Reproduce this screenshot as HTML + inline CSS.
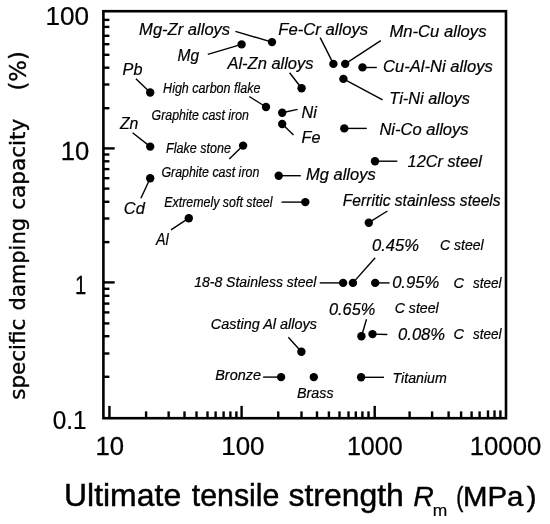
<!DOCTYPE html>
<html><head><meta charset="utf-8"><title>Damping capacity vs tensile strength</title>
<style>
html,body{margin:0;padding:0;background:#fff;}
svg{display:block;font-family:"Liberation Sans",Arial,Helvetica,sans-serif;fill:#000;}
</style></head>
<body>
<svg width="550" height="524" viewBox="0 0 550 524">
<rect width="550" height="524" fill="#fff"/>
<g>
<rect x="103.4" y="11.2" width="402.6" height="407.0" fill="none" stroke="#000" stroke-width="2.6"/>
<line x1="103.4" y1="148.40" x2="114.7" y2="148.40" stroke="#000" stroke-width="2.4"/>
<line x1="103.4" y1="282.40" x2="114.7" y2="282.40" stroke="#000" stroke-width="2.4"/>
<line x1="103.4" y1="19.90" x2="109.4" y2="19.90" stroke="#000" stroke-width="2.4"/>
<line x1="103.4" y1="26.90" x2="109.4" y2="26.90" stroke="#000" stroke-width="2.4"/>
<line x1="103.4" y1="35.80" x2="109.4" y2="35.80" stroke="#000" stroke-width="2.4"/>
<line x1="103.4" y1="44.20" x2="109.4" y2="44.20" stroke="#000" stroke-width="2.4"/>
<line x1="103.4" y1="54.80" x2="109.4" y2="54.80" stroke="#000" stroke-width="2.4"/>
<line x1="103.4" y1="67.70" x2="109.4" y2="67.70" stroke="#000" stroke-width="2.4"/>
<line x1="103.4" y1="84.50" x2="109.4" y2="84.50" stroke="#000" stroke-width="2.4"/>
<line x1="103.4" y1="108.20" x2="109.4" y2="108.20" stroke="#000" stroke-width="2.4"/>
<line x1="103.4" y1="154.50" x2="109.4" y2="154.50" stroke="#000" stroke-width="2.4"/>
<line x1="103.4" y1="161.30" x2="109.4" y2="161.30" stroke="#000" stroke-width="2.4"/>
<line x1="103.4" y1="169.10" x2="109.4" y2="169.10" stroke="#000" stroke-width="2.4"/>
<line x1="103.4" y1="178.20" x2="109.4" y2="178.20" stroke="#000" stroke-width="2.4"/>
<line x1="103.4" y1="188.60" x2="109.4" y2="188.60" stroke="#000" stroke-width="2.4"/>
<line x1="103.4" y1="201.80" x2="109.4" y2="201.80" stroke="#000" stroke-width="2.4"/>
<line x1="103.4" y1="218.50" x2="109.4" y2="218.50" stroke="#000" stroke-width="2.4"/>
<line x1="103.4" y1="242.10" x2="109.4" y2="242.10" stroke="#000" stroke-width="2.4"/>
<line x1="103.4" y1="288.80" x2="109.4" y2="288.80" stroke="#000" stroke-width="2.4"/>
<line x1="103.4" y1="295.80" x2="109.4" y2="295.80" stroke="#000" stroke-width="2.4"/>
<line x1="103.4" y1="303.60" x2="109.4" y2="303.60" stroke="#000" stroke-width="2.4"/>
<line x1="103.4" y1="312.40" x2="109.4" y2="312.40" stroke="#000" stroke-width="2.4"/>
<line x1="103.4" y1="323.40" x2="109.4" y2="323.40" stroke="#000" stroke-width="2.4"/>
<line x1="103.4" y1="336.20" x2="109.4" y2="336.20" stroke="#000" stroke-width="2.4"/>
<line x1="103.4" y1="353.50" x2="109.4" y2="353.50" stroke="#000" stroke-width="2.4"/>
<line x1="103.4" y1="376.80" x2="109.4" y2="376.80" stroke="#000" stroke-width="2.4"/>
<line x1="109.45" y1="418.2" x2="109.45" y2="405.9" stroke="#000" stroke-width="2.4"/>
<line x1="241.6" y1="418.2" x2="241.6" y2="405.9" stroke="#000" stroke-width="2.4"/>
<line x1="374.7" y1="418.2" x2="374.7" y2="405.9" stroke="#000" stroke-width="2.4"/>
<line x1="146.1" y1="418.2" x2="146.1" y2="411.4" stroke="#000" stroke-width="2.4"/>
<line x1="168.65" y1="418.2" x2="168.65" y2="411.4" stroke="#000" stroke-width="2.4"/>
<line x1="184.5" y1="418.2" x2="184.5" y2="411.4" stroke="#000" stroke-width="2.4"/>
<line x1="196.5" y1="418.2" x2="196.5" y2="411.4" stroke="#000" stroke-width="2.4"/>
<line x1="207.5" y1="418.2" x2="207.5" y2="411.4" stroke="#000" stroke-width="2.4"/>
<line x1="215.6" y1="418.2" x2="215.6" y2="411.4" stroke="#000" stroke-width="2.4"/>
<line x1="223.6" y1="418.2" x2="223.6" y2="411.4" stroke="#000" stroke-width="2.4"/>
<line x1="230.4" y1="418.2" x2="230.4" y2="411.4" stroke="#000" stroke-width="2.4"/>
<line x1="236.4" y1="418.2" x2="236.4" y2="411.4" stroke="#000" stroke-width="2.4"/>
<line x1="278.25" y1="418.2" x2="278.25" y2="411.4" stroke="#000" stroke-width="2.4"/>
<line x1="301.5" y1="418.2" x2="301.5" y2="411.4" stroke="#000" stroke-width="2.4"/>
<line x1="317.0" y1="418.2" x2="317.0" y2="411.4" stroke="#000" stroke-width="2.4"/>
<line x1="328.9" y1="418.2" x2="328.9" y2="411.4" stroke="#000" stroke-width="2.4"/>
<line x1="339.5" y1="418.2" x2="339.5" y2="411.4" stroke="#000" stroke-width="2.4"/>
<line x1="348.5" y1="418.2" x2="348.5" y2="411.4" stroke="#000" stroke-width="2.4"/>
<line x1="355.8" y1="418.2" x2="355.8" y2="411.4" stroke="#000" stroke-width="2.4"/>
<line x1="362.4" y1="418.2" x2="362.4" y2="411.4" stroke="#000" stroke-width="2.4"/>
<line x1="368.5" y1="418.2" x2="368.5" y2="411.4" stroke="#000" stroke-width="2.4"/>
<line x1="409.6" y1="418.2" x2="409.6" y2="411.4" stroke="#000" stroke-width="2.4"/>
<line x1="432.1" y1="418.2" x2="432.1" y2="411.4" stroke="#000" stroke-width="2.4"/>
<line x1="448.6" y1="418.2" x2="448.6" y2="411.4" stroke="#000" stroke-width="2.4"/>
<line x1="461.1" y1="418.2" x2="461.1" y2="411.4" stroke="#000" stroke-width="2.4"/>
<line x1="471.6" y1="418.2" x2="471.6" y2="411.4" stroke="#000" stroke-width="2.4"/>
<line x1="479.6" y1="418.2" x2="479.6" y2="411.4" stroke="#000" stroke-width="2.4"/>
<line x1="488.0" y1="418.2" x2="488.0" y2="410.4" stroke="#000" stroke-width="2.4"/>
<line x1="494.5" y1="418.2" x2="494.5" y2="410.4" stroke="#000" stroke-width="2.4"/>
<line x1="500.4" y1="418.2" x2="500.4" y2="410.4" stroke="#000" stroke-width="2.4"/>
<circle cx="241.6" cy="44.4" r="4.2"/>
<circle cx="272.0" cy="42.1" r="4.2"/>
<circle cx="333.4" cy="63.9" r="4.2"/>
<circle cx="345.2" cy="63.9" r="4.2"/>
<circle cx="362.5" cy="67.4" r="4.2"/>
<circle cx="343.4" cy="78.9" r="4.2"/>
<circle cx="301.6" cy="88.3" r="4.2"/>
<circle cx="266.0" cy="107.0" r="4.2"/>
<circle cx="282.2" cy="112.8" r="4.2"/>
<circle cx="282.2" cy="124.0" r="4.2"/>
<circle cx="344.3" cy="128.4" r="4.2"/>
<circle cx="150.2" cy="92.5" r="4.2"/>
<circle cx="150.2" cy="146.6" r="4.2"/>
<circle cx="243.1" cy="145.6" r="4.2"/>
<circle cx="150.2" cy="178.2" r="4.2"/>
<circle cx="278.7" cy="175.7" r="4.2"/>
<circle cx="375.0" cy="161.2" r="4.2"/>
<circle cx="305.3" cy="202.1" r="4.2"/>
<circle cx="188.8" cy="218.2" r="4.2"/>
<circle cx="368.8" cy="222.7" r="4.2"/>
<circle cx="343.1" cy="282.9" r="4.2"/>
<circle cx="352.9" cy="282.9" r="4.2"/>
<circle cx="375.2" cy="282.9" r="4.2"/>
<circle cx="361.4" cy="336.2" r="4.2"/>
<circle cx="372.5" cy="334.1" r="4.2"/>
<circle cx="301.4" cy="351.7" r="4.2"/>
<circle cx="281.1" cy="377.1" r="4.2"/>
<circle cx="313.8" cy="377.1" r="4.2"/>
<circle cx="361.1" cy="377.3" r="4.2"/>
<line x1="207.8" y1="54.4" x2="241.6" y2="44.4" stroke="#000" stroke-width="1.4"/>
<line x1="235.4" y1="31.4" x2="272.0" y2="42.1" stroke="#000" stroke-width="1.4"/>
<line x1="320.2" y1="37.6" x2="333.4" y2="63.9" stroke="#000" stroke-width="1.4"/>
<line x1="380.8" y1="40.7" x2="345.2" y2="63.9" stroke="#000" stroke-width="1.4"/>
<line x1="362.5" y1="67.5" x2="376.8" y2="67.5" stroke="#000" stroke-width="1.4"/>
<line x1="343.4" y1="78.9" x2="382.6" y2="99.9" stroke="#000" stroke-width="1.4"/>
<line x1="289.6" y1="72.8" x2="301.6" y2="88.3" stroke="#000" stroke-width="1.4"/>
<line x1="249.3" y1="96.5" x2="266.0" y2="107.0" stroke="#000" stroke-width="1.4"/>
<line x1="282.2" y1="112.8" x2="297.6" y2="109.4" stroke="#000" stroke-width="1.4"/>
<line x1="282.2" y1="124.0" x2="293.5" y2="135.1" stroke="#000" stroke-width="1.4"/>
<line x1="344.3" y1="128.4" x2="366.8" y2="128.4" stroke="#000" stroke-width="1.4"/>
<line x1="135.9" y1="78.8" x2="150.2" y2="92.5" stroke="#000" stroke-width="1.4"/>
<line x1="132.6" y1="132.8" x2="150.2" y2="146.6" stroke="#000" stroke-width="1.4"/>
<line x1="229.3" y1="158.9" x2="243.1" y2="145.6" stroke="#000" stroke-width="1.4"/>
<line x1="140.9" y1="198.2" x2="150.2" y2="178.2" stroke="#000" stroke-width="1.4"/>
<line x1="278.7" y1="175.7" x2="300.8" y2="175.7" stroke="#000" stroke-width="1.4"/>
<line x1="375.0" y1="161.2" x2="397.3" y2="161.2" stroke="#000" stroke-width="1.4"/>
<line x1="281.5" y1="202.1" x2="305.3" y2="202.1" stroke="#000" stroke-width="1.4"/>
<line x1="171.0" y1="229.8" x2="188.8" y2="218.2" stroke="#000" stroke-width="1.4"/>
<line x1="387.4" y1="211.0" x2="368.8" y2="222.7" stroke="#000" stroke-width="1.4"/>
<line x1="319.7" y1="282.9" x2="343.1" y2="282.9" stroke="#000" stroke-width="1.4"/>
<line x1="375.2" y1="257.8" x2="352.9" y2="282.9" stroke="#000" stroke-width="1.4"/>
<line x1="375.2" y1="282.9" x2="389.6" y2="282.9" stroke="#000" stroke-width="1.4"/>
<line x1="366.5" y1="319.2" x2="361.6" y2="336.0" stroke="#000" stroke-width="1.4"/>
<line x1="372.5" y1="334.1" x2="387.3" y2="334.5" stroke="#000" stroke-width="1.4"/>
<line x1="288.3" y1="337.3" x2="301.4" y2="351.7" stroke="#000" stroke-width="1.4"/>
<line x1="263.1" y1="377.1" x2="281.1" y2="377.1" stroke="#000" stroke-width="1.4"/>
<line x1="361.1" y1="377.3" x2="384.0" y2="377.3" stroke="#000" stroke-width="1.4"/>
</g>
<g>
<text transform="matrix(1.0042 0 0 1 139.10 34.50)" font-size="16.5" font-style="italic" stroke="#000" stroke-width="0.2">Mg-Zr alloys</text>
<text transform="matrix(0.9428 0 0 1 177.53 61.40)" font-size="16.5" font-style="italic" stroke="#000" stroke-width="0.2">Mg</text>
<text transform="matrix(0.9997 0 0 1 227.42 68.70)" font-size="16.5" font-style="italic" stroke="#000" stroke-width="0.2">Al-Zn alloys</text>
<text transform="matrix(1.0112 0 0 1 278.30 35.40)" font-size="16.5" font-style="italic" stroke="#000" stroke-width="0.2">Fe-Cr alloys</text>
<text transform="matrix(1.0087 0 0 1 389.40 37.40)" font-size="16.5" font-style="italic" stroke="#000" stroke-width="0.2">Mn-Cu alloys</text>
<text transform="matrix(1.0064 0 0 1 382.97 72.00)" font-size="16.5" font-style="italic" stroke="#000" stroke-width="0.2">Cu-Al-Ni alloys</text>
<text transform="matrix(0.9913 0 0 1 389.33 103.90)" font-size="16.5" font-style="italic" stroke="#000" stroke-width="0.2">Ti-Ni alloys</text>
<text transform="matrix(0.9840 0 0 1 301.61 117.70)" font-size="16.5" font-style="italic" stroke="#000" stroke-width="0.2">Ni</text>
<text transform="matrix(0.9807 0 0 1 301.51 143.10)" font-size="16.5" font-style="italic" stroke="#000" stroke-width="0.2">Fe</text>
<text transform="matrix(1.0033 0 0 1 379.40 134.90)" font-size="16.5" font-style="italic" stroke="#000" stroke-width="0.2">Ni-Co alloys</text>
<text transform="matrix(0.9883 0 0 1 407.61 166.90)" font-size="16.5" font-style="italic" stroke="#000" stroke-width="0.2">12Cr steel</text>
<text transform="matrix(0.9985 0 0 1 306.11 180.10)" font-size="16.5" font-style="italic" stroke="#000" stroke-width="0.2">Mg alloys</text>
<text transform="matrix(1.0004 0 0 1 342.83 205.60)" font-size="15.6" font-style="italic" stroke="#000" stroke-width="0.2">Ferritic stainless steels</text>
<text transform="matrix(0.9842 0 0 1 122.61 75.10)" font-size="16.5" font-style="italic" stroke="#000" stroke-width="0.2">Pb</text>
<text transform="matrix(0.9569 0 0 1 119.92 129.00)" font-size="16.5" font-style="italic" stroke="#000" stroke-width="0.2">Zn</text>
<text transform="matrix(0.9988 0 0 1 123.78 213.90)" font-size="16.5" font-style="italic" stroke="#000" stroke-width="0.2">Cd</text>
<text transform="matrix(0.8712 0 0 1 155.92 245.30)" font-size="16.5" font-style="italic" stroke="#000" stroke-width="0.2">Al</text>
<text transform="matrix(1.0057 0 0 1 371.94 250.90)" font-size="16.5" font-style="italic" stroke="#000" stroke-width="0.2">0.45%</text>
<text transform="matrix(1.0057 0 0 1 392.14 288.10)" font-size="16.5" font-style="italic" stroke="#000" stroke-width="0.2">0.95%</text>
<text transform="matrix(0.9925 0 0 1 328.94 315.30)" font-size="16.5" font-style="italic" stroke="#000" stroke-width="0.2">0.65%</text>
<text transform="matrix(1.0057 0 0 1 398.04 340.40)" font-size="16.5" font-style="italic" stroke="#000" stroke-width="0.2">0.08%</text>
<text transform="matrix(0.8929 0 0 1 163.12 93.20)" font-size="14.0" font-style="italic" stroke="#000" stroke-width="0.2">High carbon flake</text>
<text transform="matrix(0.8819 0 0 1 151.58 119.90)" font-size="14.0" font-style="italic" stroke="#000" stroke-width="0.2">Graphite cast iron</text>
<text transform="matrix(0.8964 0 0 1 166.12 152.80)" font-size="14.0" font-style="italic" stroke="#000" stroke-width="0.2">Flake stone</text>
<text transform="matrix(0.8874 0 0 1 161.38 176.70)" font-size="14.0" font-style="italic" stroke="#000" stroke-width="0.2">Graphite cast iron</text>
<text transform="matrix(0.8857 0 0 1 164.33 206.50)" font-size="14.0" font-style="italic" stroke="#000" stroke-width="0.2">Extremely soft steel</text>
<text transform="matrix(0.9864 0 0 1 194.18 286.90)" font-size="14.2" font-style="italic" stroke="#000" stroke-width="0.2">18-8 Stainless steel</text>
<text transform="matrix(0.9956 0 0 1 210.78 328.90)" font-size="14.5" font-style="italic" stroke="#000" stroke-width="0.2">Casting Al alloys</text>
<text transform="matrix(1.0129 0 0 1 215.17 380.40)" font-size="14.3" font-style="italic" stroke="#000" stroke-width="0.2">Bronze</text>
<text transform="matrix(1.0144 0 0 1 297.07 398.40)" font-size="14.1" font-style="italic" stroke="#000" stroke-width="0.2">Brass</text>
<text transform="matrix(0.9930 0 0 1 392.52 382.80)" font-size="14.3" font-style="italic" stroke="#000" stroke-width="0.2">Titanium</text>
<text transform="matrix(0.9947 0 0 1 440.00 249.80)" font-size="14.1" font-style="italic" stroke="#000" stroke-width="0.2">C steel</text>
<text transform="matrix(1.0399 0 0 1 453.57 287.90)" font-size="14.0" font-style="italic" stroke="#000" stroke-width="0.2">C</text>
<text transform="matrix(0.9658 0 0 1 473.00 287.90)" font-size="14.0" font-style="italic" stroke="#000" stroke-width="0.2">steel</text>
<text transform="matrix(1.0040 0 0 1 394.69 313.10)" font-size="14.1" font-style="italic" stroke="#000" stroke-width="0.2">C steel</text>
<text transform="matrix(1.0399 0 0 1 453.57 339.40)" font-size="14.0" font-style="italic" stroke="#000" stroke-width="0.2">C</text>
<text transform="matrix(0.9658 0 0 1 473.00 339.40)" font-size="14.0" font-style="italic" stroke="#000" stroke-width="0.2">steel</text>
<text transform="matrix(1.0452 0 0 1 45.41 24.60)" font-size="25" stroke="#000" stroke-width="0.25">100</text>
<text transform="matrix(1.0240 0 0 1 60.65 159.60)" font-size="25" stroke="#000" stroke-width="0.25">10</text>
<text transform="matrix(0.8093 0 0 1 74.98 294.40)" font-size="25" stroke="#000" stroke-width="0.25">1</text>
<text transform="matrix(0.9723 0 0 1 52.73 428.70)" font-size="25" stroke="#000" stroke-width="0.25">0.1</text>
<text transform="matrix(1.0280 0 0 1 95.44 455.00)" font-size="25" stroke="#000" stroke-width="0.25">10</text>
<text transform="matrix(1.0374 0 0 1 221.23 455.00)" font-size="25" stroke="#000" stroke-width="0.25">100</text>
<text transform="matrix(1.0028 0 0 1 346.89 455.00)" font-size="25" stroke="#000" stroke-width="0.25">1000</text>
<text transform="matrix(1.0301 0 0 1 469.74 455.00)" font-size="25" stroke="#000" stroke-width="0.25">10000</text>
<text transform="matrix(1.0315 0 0 1 63.94 505.60)" font-size="31" stroke="#000" stroke-width="0.45">Ultimate</text>
<text transform="matrix(0.9803 0 0 1 191.70 505.60)" font-size="31" stroke="#000" stroke-width="0.45">tensile</text>
<text transform="matrix(1.0301 0 0 1 288.44 505.60)" font-size="31" stroke="#000" stroke-width="0.45">strength</text>
<text transform="matrix(0.9995 0 0 1 413.35 506.30)" font-size="28.5" font-style="italic" stroke="#000" stroke-width="0.3">R</text>
<text transform="matrix(1.0074 0 0 1 432.68 516.10)" font-size="17.3" stroke="#000" stroke-width="0.2">m</text>
<text transform="matrix(0.7893 0 0 1 456.23 506.20)" font-size="26.8" stroke="#000" stroke-width="0.45">(</text>
<text transform="matrix(1.0968 0 0 1 463.05 506.20)" font-size="26.8" stroke="#000" stroke-width="0.45">MPa</text>
<text transform="matrix(1.0907 0 0 1 526.71 506.20)" font-size="26.8" stroke="#000" stroke-width="0.45">)</text>
<text transform="matrix(0 -1.0224 1 0 25.20 399.77)" font-size="21" font-family="DejaVu Sans, Liberation Sans, sans-serif" stroke="#000" stroke-width="0.35">specific</text>
<text transform="matrix(0 -1.0004 1 0 25.20 310.45)" font-size="21" font-family="DejaVu Sans, Liberation Sans, sans-serif" stroke="#000" stroke-width="0.35">damping</text>
<text transform="matrix(0 -1.0271 1 0 25.20 209.78)" font-size="21" font-family="DejaVu Sans, Liberation Sans, sans-serif" stroke="#000" stroke-width="0.35">capacity</text>
<text transform="matrix(0 -1.0134 1 0 25.70 90.62)" font-size="22.5" font-family="DejaVu Sans, Liberation Sans, sans-serif" stroke="#000" stroke-width="0.35">(%)</text>
</g>
</svg>
</body></html>
